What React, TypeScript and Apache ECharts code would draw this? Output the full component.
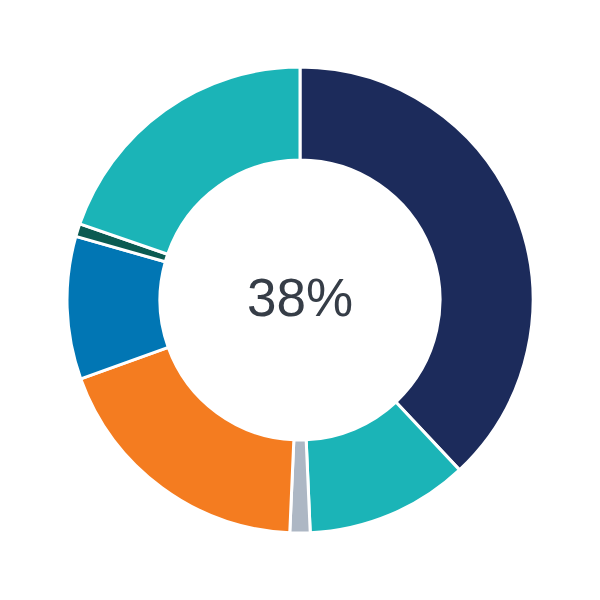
import React, { useEffect, useRef } from "react";
import * as echarts from "echarts";

const names = ["A", "B", "C", "D", "E", "F", "G"];
const values = [38, 11.3, 1.4, 18.8, 9.9, 0.9, 19.7];
const colors = ["#1c2b5b", "#1bb4b7", "#adb7c4", "#f47c20", "#0176b4", "#0b5b52", "#1bb4b7"];
const centerLabel = "38%";

export default function App() {
  const ref = useRef<HTMLDivElement>(null);
  useEffect(() => {
    const chart = echarts.init(ref.current!, null, { renderer: "svg" });
    chart.setOption({
      animation: false,
      backgroundColor: "#ffffff",
      graphic: [
        {
          type: "text",
          x: 300,
          y: 297,
          style: {
            text: centerLabel,
            fontSize: 53,
            fontFamily: "Liberation Sans, Arial, sans-serif",
            fill: "#363d47",
            align: "center",
            verticalAlign: "middle",
          },
        },
      ],
      series: [
        {
          type: "pie",
          center: [300, 300],
          radius: [140, 233],
          startAngle: 90,
          clockwise: true,
          label: { show: false },
          labelLine: { show: false },
          emphasis: { disabled: true },
          itemStyle: { borderColor: "#ffffff", borderWidth: 3 },
          data: names.map((n, i) => ({ name: n, value: values[i], itemStyle: { color: colors[i] } })),
        },
      ],
    });
    return () => chart.dispose();
  }, []);
  return <div ref={ref} style={{ position: "fixed", left: 0, top: 0, width: 600, height: 600 }} />;
}
